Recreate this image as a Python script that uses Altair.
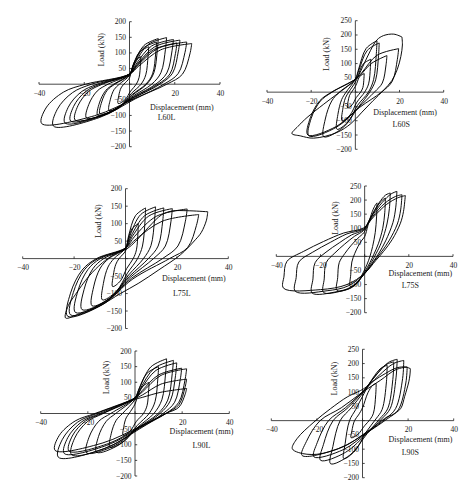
import altair as alt
import pandas as pd

FONT = "Liberation Serif"
INK = "#1a1a1a"

# every panel sits in a 237 x 166 cell of a 2 x 3 grid
CELL_W, CELL_H = 237, 166

specimens = ["L60L", "L60S", "L75L", "L75S", "L90L", "L90S"]
load_max = {"L60L": 200, "L60S": 250, "L75L": 200, "L75S": 250, "L90L": 200, "L90S": 250}

disp_ticks = [-40, -20, 0, 20, 40]
disp_labels = [-40, -20, 20, 40]
load_ticks = {200: [-200, -150, -100, -50, 0, 50, 100, 150, 200],
              250: [-200, -150, -100, -50, 0, 50, 100, 150, 200, 250]}

# hysteresis loops: (displacement mm, load kN) vertices, one list per cycle
loops_l60l = [
    [(5, 88), (4.85, 66), (4.25, 22), (3, 0), (0.5, -22), (-2, -50), (-5, -62), (-4.75, -37), (-3.75, -12), (-2.5, 0), (0, 20), (0.75, 40), (2.5, 75), (5, 88)],
    [(8.5, 120), (8.2, 90), (7.2, 30), (5.1, 0), (0.9, -29), (-3.6, -67), (-9, -84), (-8.5, -50), (-6.8, -17), (-4.5, 0), (0, 28), (1.3, 54), (4.3, 102), (8.5, 120)],
    [(12.7, 146), (12.3, 110), (10.8, 37), (7.6, 0), (1.3, -35), (-5.6, -80), (-14, -100), (-13.3, -60), (-10.5, -20), (-7, 0), (0, 32), (1.9, 66), (6.4, 124), (12.7, 146)],
    [(12, 135), (11.6, 100), (10.2, 33), (7.2, 0), (1.2, -33), (-5.2, -76), (-13, -95), (-12.3, -57), (-9.8, -19), (-6.5, 0), (0, 30), (1.8, 60), (6, 115), (12, 135)],
    [(16.4, 149), (15.9, 112), (13.9, 37), (9.8, 0), (1.6, -38), (-7.6, -86), (-19, -108), (-18, -65), (-14.3, -22), (-9.5, 0), (0, 33), (2.5, 67), (8.2, 127), (16.4, 149)],
    [(19.4, 143), (18.8, 107), (16.5, 36), (11.6, 0), (1.9, -40), (-9.6, -92), (-24, -115), (-22.8, -69), (-18, -23), (-12, 0), (0, 33), (2.9, 64), (9.7, 122), (19.4, 143)],
    [(21, 132), (20.3, 98), (17.9, 33), (12.6, 0), (2.1, -41), (-10.6, -95), (-26, -118), (-24.7, -71), (-19.5, -24), (-13, 0), (0, 31), (3.1, 58), (10.5, 110), (21, 132)],
    [(22.3, 141), (21.6, 106), (19, 35), (13.4, 0), (2.2, -43), (-11.4, -99), (-28.5, -124), (-27.1, -74), (-21.4, -25), (-14.3, 0), (0, 33), (3.3, 63), (11.2, 120), (22.3, 141)],
    [(25.3, 135), (24.5, 101), (21.5, 34), (15.2, 0), (2.5, -47), (-13.4, -107), (-33.6, -134), (-31.9, -80), (-25.2, -27), (-16.8, 0), (0, 32), (3.8, 61), (12.7, 115), (25.3, 135)],
    [(27.5, 130), (26.7, 97), (23.4, 32), (16.5, 0), (2.8, -44), (-15.5, -101), (-38.8, -126), (-36.9, -76), (-29.1, -25), (-19.4, 0), (0, 32), (4.1, 58), (13.8, 110), (27.5, 130)],
]

loops_l60s = [
    [(4, 65), (3.9, 49), (3.4, 16), (2.4, 0), (0.4, -19), (-1.4, -44), (-3.5, -55), (-3.3, -33), (-2.6, -11), (-1.7, 0), (0, 20), (0.6, 30), (2, 55), (4, 65)],
    [(7, 115), (6.8, 86), (6, 29), (4.2, 0), (0.7, -35), (-2.4, -80), (-6, -100), (-5.7, -60), (-4.5, -20), (-3, 0), (0, 35), (1, 52), (3.5, 98), (7, 115)],
    [(9.8, 180), (9.5, 135), (8.3, 45), (5.9, 0), (1, -46), (-3.3, -104), (-8.3, -130), (-7.9, -78), (-6.2, -26), (-4.2, 0), (0, 45), (1.5, 81), (4.9, 153), (9.8, 180)],
    [(10.8, 172), (10.5, 129), (9.2, 43), (6.5, 0), (1.1, -55), (-5.7, -125), (-14.3, -156), (-13.6, -94), (-10.7, -31), (-7.2, 0), (0, 45), (1.6, 77), (5.4, 146), (10.8, 172)],
    [(14.3, 128), (13.9, 96), (12.2, 32), (8.6, 0), (1.4, -54), (-8.4, -122), (-21, -153), (-20, -92), (-15.8, -31), (-10.5, 0), (0, 45), (2.1, 58), (7.2, 100), (14.3, 128)],
    [(19.6, 152), (19, 114), (16.7, 38), (11.8, 0), (2, -53), (-8.6, -120), (-21.5, -150), (-20.4, -90), (-16.1, -30), (-10.8, 0), (0, 45), (2.9, 68), (9.8, 129), (19.6, 152)],
    [(21.1, 193), (21.3, 165), (20.6, 125), (19, 80), (16.5, 40), (12.8, 7), (8, -30), (3, -70), (-2, -110), (-8.3, -141), (-18.9, -161), (-24.9, -153), (-28.7, -145), (-26, -120), (-21.9, -89), (-14.3, -42), (-8.3, -7), (-2.3, 28), (0.8, 51), (4, 100), (6.8, 145), (9.8, 183), (12.8, 198), (17.4, 203), (21.1, 193)],
]

loops_l75l = [
    [(5, 100), (4.85, 75), (4.25, 25), (3, 0), (0.5, -28), (-2, -64), (-5, -80), (-4.75, -48), (-3.75, -16), (-2.5, 0), (0, 22), (0.75, 45), (2.5, 85), (5, 100)],
    [(7.8, 145), (7.6, 109), (6.6, 36), (4.7, 0), (0.8, -41), (-3.6, -94), (-9, -118), (-8.6, -71), (-6.8, -24), (-4.5, 0), (0, 30), (1.2, 65), (3.9, 123), (7.8, 145)],
    [(11.7, 148), (11.3, 111), (9.9, 37), (7, 0), (1.2, -47), (-5.2, -108), (-13, -135), (-12.4, -81), (-9.8, -27), (-6.5, 0), (0, 30), (1.8, 67), (5.9, 126), (11.7, 148)],
    [(14.9, 145), (14.5, 109), (12.7, 36), (8.9, 0), (1.5, -51), (-6.8, -117), (-16.9, -146), (-16.1, -88), (-12.7, -29), (-8.5, 0), (0, 30), (2.2, 65), (7.5, 123), (14.9, 145)],
    [(18.2, 143), (17.7, 107), (15.5, 36), (10.9, 0), (1.8, -54), (-7.8, -123), (-19.5, -154), (-18.5, -92), (-14.6, -31), (-9.8, 0), (0, 30), (2.7, 64), (9.1, 122), (18.2, 143)],
    [(24, 142), (23.3, 107), (20.4, 36), (14.4, 0), (2.4, -56), (-8.6, -129), (-21.4, -161), (-20.3, -97), (-16, -32), (-10.7, 0), (0, 30), (3.6, 64), (12, 121), (24, 142)],
    [(28.5, 126), (27.6, 95), (24.2, 32), (17.1, 0), (2.9, -58), (-9, -132), (-22.5, -165), (-21.4, -99), (-16.9, -33), (-11.3, 0), (0, 30), (4.3, 57), (14.3, 107), (28.5, 126)],
    [(32, 134), (31.5, 110), (29.5, 75), (27.2, 54), (21.4, 11), (13, -32), (5.2, -70), (-2, -100), (-10, -135), (-18, -158), (-23.3, -170), (-22.3, -135), (-19.5, -103), (-14.3, -51), (-9, -12), (-3.9, 14), (0.6, 28), (4, 50), (9, 90), (14, 125), (18, 136), (24, 137), (32, 134)],
]

loops_l75s = [
    [(5.6, 190), (5.4, 140), (4.8, 85), (3.6, 35), (2.4, 0), (1, -30), (-0.5, -55), (-2.5, -85), (-4, -100), (-6.5, -107), (-6.3, -65), (-5.8, -20), (-4.5, 10), (-3, 35), (-1.5, 55), (0, 70), (1.5, 110), (3.5, 160), (4.8, 182), (5.6, 190)],
    [(9.4, 207), (9.1, 155), (8.2, 100), (6.2, 45), (4.2, 8), (2.4, -22), (0, -55), (-3.5, -95), (-7, -115), (-12.5, -121), (-12.2, -75), (-11.5, -22), (-9, 10), (-6, 40), (-3, 65), (-0.3, 85), (2, 125), (5.5, 175), (8, 200), (9.4, 207)],
    [(11.6, 225), (11.2, 170), (10.1, 115), (7.6, 50), (5.2, 10), (3, -22), (0, -60), (-5, -105), (-10.5, -123), (-18.6, -128), (-18.3, -80), (-17.4, -22), (-13.5, 12), (-9, 44), (-4.5, 72), (-0.5, 92), (2.5, 135), (6.5, 190), (9.5, 218), (11.6, 225)],
    [(14.6, 231), (14.1, 175), (12.8, 120), (9.5, 55), (6.5, 12), (3.8, -20), (0, -62), (-6, -108), (-13, -126), (-23.8, -130), (-23.4, -80), (-22.4, -22), (-17.5, 15), (-11.5, 48), (-6, 76), (-0.5, 95), (3, 140), (8, 192), (12, 222), (14.6, 231)],
    [(16.9, 219), (16.3, 165), (14.8, 115), (11, 55), (7.5, 15), (4.5, -15), (0, -60), (-7.5, -105), (-17, -122), (-31.4, -124), (-31, -75), (-29.8, -20), (-23.5, 15), (-15.5, 50), (-8, 80), (-0.5, 98), (3.5, 140), (9, 188), (14, 213), (16.9, 219)],
    [(18.4, 216), (17.6, 160), (16.2, 118), (12.5, 60), (8.6, 18), (5, -15), (0, -60), (-8, -100), (-20, -118), (-36.7, -113), (-36.5, -70), (-35.2, -18), (-27.6, 18), (-18.6, 53), (-9.5, 83), (-0.5, 101), (4, 140), (10, 185), (15, 208), (18.4, 216)],
]

loops_l90l = [
    [(6, 100), (5.8, 75), (5.1, 25), (3.6, 0), (0.6, -25), (-2, -56), (-5, -70), (-4.75, -42), (-3.75, -14), (-2.5, 0), (0, 30), (0.9, 50), (3, 85), (6, 100)],
    [(10, 150), (9.7, 113), (8.5, 38), (6, 0), (1, -38), (-4.2, -86), (-10.6, -108), (-10.1, -65), (-8, -22), (-5.3, 0), (0, 45), (1.5, 75), (5, 128), (10, 150)],
    [(13.4, 175), (13, 131), (11.4, 44), (8, 0), (1.3, -43), (-6.5, -99), (-16.3, -124), (-15.5, -74), (-12.2, -25), (-8.2, 0), (0, 50), (2, 83), (6.7, 149), (13.4, 175)],
    [(16.3, 170), (15.8, 128), (13.9, 43), (9.8, 0), (1.6, -44), (-8.2, -101), (-20.5, -126), (-19.5, -76), (-15.4, -25), (-10.3, 0), (0, 50), (2.4, 82), (8.2, 145), (16.3, 170)],
    [(17.7, 162), (17.2, 122), (15, 41), (10.6, 0), (1.8, -46), (-10.8, -106), (-26.9, -132), (-25.6, -79), (-20.2, -26), (-13.5, 0), (0, 50), (2.7, 80), (8.9, 138), (17.7, 162)],
    [(19.8, 145), (19.2, 109), (16.8, 36), (11.9, 0), (2, -49), (-13, -112), (-32.5, -140), (-30.9, -84), (-24.4, -28), (-16.3, 0), (0, 50), (3, 73), (9.9, 123), (19.8, 145)],
    [(21.9, 143), (21.2, 107), (18.6, 36), (13.1, 0), (2.2, -45), (-12, -102), (-30, -128), (-28.5, -77), (-22.5, -26), (-15, 0), (0, 50), (3.3, 70), (11, 122), (21.9, 143)],
    [(21.9, 110), (21.2, 83), (18.6, 28), (13.1, 0), (2.2, -41), (-13.6, -94), (-33.9, -118), (-32.2, -71), (-25.4, -24), (-17, 0), (0, 48), (3.3, 60), (11, 94), (21.9, 110)],
    [(21.9, 80), (21.2, 60), (18.6, 20), (13.1, 0), (2.2, -42), (-11.2, -96), (-28, -120), (-26.6, -72), (-21, -24), (-14, 0), (0, 45), (3.3, 52), (11, 68), (21.9, 80)],
]

loops_l90s = [
    [(6, 130), (5.8, 91), (4.8, 26), (3.3, 4), (0.9, -18), (-2, -48), (-5, -60), (-4.65, -36), (-3.5, 0), (-1.75, 20), (0, 45), (2.4, 98), (4.5, 124), (6, 130)],
    [(10.8, 194), (10.5, 136), (8.6, 39), (5.9, 6), (1.6, -40), (-3.3, -106), (-8.2, -133), (-7.6, -80), (-5.7, 0), (-2.9, 40), (0, 85), (4.3, 146), (8.1, 184), (10.8, 194)],
    [(13.7, 206), (13.3, 144), (11, 41), (7.5, 6), (2.1, -45), (-5.6, -121), (-14, -151), (-13, -91), (-9.8, 0), (-4.9, 45), (0, 95), (5.5, 155), (10.3, 196), (13.7, 206)],
    [(15.2, 215), (14.7, 150), (12.2, 43), (8.4, 6), (2.3, -42), (-7.4, -111), (-18.4, -139), (-17.1, -83), (-12.9, 0), (-6.4, 45), (0, 100), (6.1, 161), (11.4, 204), (15.2, 215)],
    [(18.1, 211), (17.6, 148), (14.5, 42), (10, 6), (2.7, -38), (-8.5, -102), (-21.3, -127), (-19.8, -76), (-14.9, 0), (-7.5, 45), (0, 100), (7.2, 158), (13.6, 200), (18.1, 211)],
    [(19.6, 188), (19, 132), (15.7, 38), (10.8, 6), (2.9, -37), (-10.6, -98), (-26.5, -122), (-24.6, -73), (-18.6, 0), (-9.3, 45), (0, 100), (7.8, 141), (14.7, 179), (19.6, 188)],
    [(21, 182), (20.8, 160), (20.3, 136), (18.5, 85), (16.7, 42), (13, 20), (10.8, 13), (6, -15), (0, -50), (-8, -90), (-20, -118), (-28, -112), (-30.8, -98), (-28.7, -63), (-21.3, -5), (-14, 42), (-6.7, 83), (-2.3, 100), (0.6, 112), (5, 140), (10, 165), (15, 185), (19, 188), (21, 182)],
]

loops = {"L60L": loops_l60l, "L60S": loops_l60s, "L75L": loops_l75l,
         "L75S": loops_l75s, "L90L": loops_l90l, "L90S": loops_l90s}

# text anchors in data units (displacement, load)
load_title_at = {"L60L": (-12.3, 110), "L60S": (-13, 133), "L75L": (-10.2, 107),
                 "L75S": (-12.9, 136), "L90L": (-11.7, 115), "L90S": (-11.9, 147)}
disp_title_at = {"L60L": (23.1, -77), "L60S": (22.5, -74), "L75L": (26.6, -59),
                 "L75S": (25.2, -64), "L90L": (28.2, -60), "L90S": (25.4, -68)}
name_at = {"L60L": (16.4, -108), "L60S": (20.8, -116), "L75L": (21.9, -101),
           "L75S": (20.7, -106), "L90L": (28.2, -103), "L90S": (21, -114)}

# page layout: grid cell, pixel span of x = -40..40 and of the load axis
frames = {
    "L60L": (0, 0, 39.0, 220.0, 21.7, 146.7),
    "L60S": (1, 0, 267.0, 443.7, 20.7, 149.3),
    "L75L": (0, 1, 22.7, 228.3, 188.7, 328.5),
    "L75S": (1, 1, 276.3, 453.0, 186.0, 312.7),
    "L90L": (0, 2, 40.7, 229.3, 351.0, 476.0),
    "L90S": (1, 2, 271.3, 453.7, 349.3, 477.7),
}


def panel(name):
    ymax = load_max[name]
    col, row, xl, xr, yt, yb = frames[name]
    cx, cy = col * CELL_W, row * CELL_H
    sx = (xr - xl) / 80.0
    sy = (yb - yt) / (ymax + 200.0)
    x_lo = -40 - (xl - cx) / sx
    x_hi = 40 + (cx + CELL_W - xr) / sx
    y_hi = ymax + (yt - cy) / sy
    y_lo = -200 - (cy + CELL_H - yb) / sy
    x0 = (0 - x_lo) * sx
    y0 = (y_hi - 0) * sy

    X = alt.X("x:Q", scale=alt.Scale(domain=[x_lo, x_hi], nice=False, zero=False),
              axis=alt.Axis(values=disp_labels, offset=-(CELL_H - y0), domain=False,
                            ticks=False, tickSize=0, grid=False, labelPadding=5,
                            labelFont=FONT, labelFontSize=7.5, labelColor=INK,
                            labelFlush=False, labelOverlap=False, format="d", title=None))
    Y = alt.Y("y:Q", scale=alt.Scale(domain=[y_lo, y_hi], nice=False, zero=False),
              axis=alt.Axis(values=[v for v in load_ticks[ymax] if v != 0], offset=-x0,
                            domain=False, ticks=False, tickSize=0, grid=False,
                            labelPadding=4, labelFont=FONT, labelFontSize=7.5,
                            labelColor=INK, labelFlush=False, labelOverlap=False,
                            format="d", title=None))

    # axis lines through the origin plus short inward ticks
    tx, ty = 2.2 / sx, 2.2 / sy
    segs = [dict(x=-40, x2=40, y=0, y2=0), dict(x=0, x2=0, y=-200, y2=ymax)]
    segs += [dict(x=0, x2=tx, y=v, y2=v) for v in load_ticks[ymax]]
    segs += [dict(x=v, x2=v, y=0, y2=ty) for v in disp_ticks]
    rules = alt.Chart(pd.DataFrame(segs)).mark_rule(color=INK, strokeWidth=0.8).encode(
        x=X, x2=alt.X2("x2:Q"), y=Y, y2=alt.Y2("y2:Q"))

    lx, ly = load_title_at[name]
    load_title = alt.Chart(pd.DataFrame([dict(x=lx, y=ly, t="Load (kN)")])).mark_text(
        font=FONT, fontSize=8, color=INK, angle=270, align="center", baseline="middle"
    ).encode(x=X, y=Y, text="t:N")

    dx, dy = disp_title_at[name]
    nx, ny = name_at[name]
    captions = alt.Chart(pd.DataFrame([dict(x=dx, y=dy, t="Displacement (mm)"),
                                       dict(x=nx, y=ny, t=name)])).mark_text(
        font=FONT, fontSize=8, color=INK, align="center", baseline="middle"
    ).encode(x=X, y=Y, text="t:N")

    rows = []
    for i, lp in enumerate(loops[name]):
        for j, (d, p) in enumerate(lp):
            rows.append(dict(x=d, y=p, loop=i, order=j))
    curves = alt.Chart(pd.DataFrame(rows)).mark_line(
        interpolate="catmull-rom", color="black", strokeWidth=0.95
    ).encode(x=X, y=Y, detail="loop:N", order="order:Q")

    return alt.layer(rules, load_title, captions, curves).properties(width=CELL_W, height=CELL_H)


chart = alt.concat(*[panel(s) for s in specimens], columns=2, spacing=0,
                   bounds="flush").properties(padding=0).configure_view(stroke=None)

chart.save("out.html", embed_options={"renderer": "svg", "actions": False})
